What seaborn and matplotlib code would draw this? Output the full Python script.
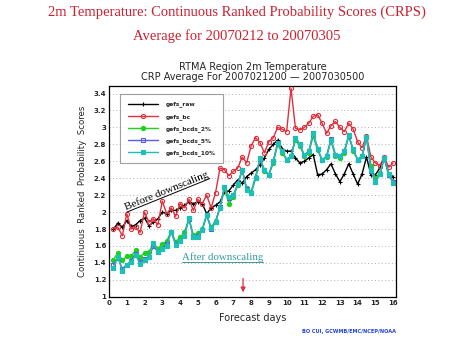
import numpy as np
import pandas as pd
import matplotlib
matplotlib.use("Agg")
import matplotlib.pyplot as plt
from matplotlib.lines import Line2D
import seaborn as sns

# lead time, every 6 h
lead_days = np.arange(1, 65) * 0.25

gefs_raw = [1.80, 1.87, 1.82, 1.90, 1.83, 1.85, 1.90, 1.93,
            1.84, 1.88, 1.92, 2.00, 1.98, 2.02, 2.02, 2.05,
            2.08, 2.12, 2.10, 2.12, 2.10, 1.98, 2.05, 2.08,
            2.12, 2.24, 2.25, 2.32, 2.38, 2.34, 2.42, 2.46,
            2.50, 2.56, 2.64, 2.74, 2.80, 2.85, 2.75, 2.72,
            2.72, 2.64, 2.58, 2.60, 2.64, 2.68, 2.44, 2.45,
            2.50, 2.57, 2.45, 2.36, 2.45, 2.57, 2.45, 2.33,
            2.45, 2.65, 2.44, 2.44, 2.52, 2.64, 2.45, 2.42]

gefs_bc = [1.80, 1.82, 1.72, 1.98, 1.80, 1.82, 1.76, 2.00,
           1.88, 1.92, 1.85, 2.13, 1.98, 2.05, 1.95, 2.10,
           2.05, 2.15, 2.02, 2.15, 2.10, 2.20, 2.05, 2.23,
           2.52, 2.50, 2.43, 2.48, 2.52, 2.65, 2.58, 2.78,
           2.88, 2.82, 2.70, 2.83, 2.88, 3.00, 2.98, 2.95,
           3.46, 2.99, 2.97, 3.00, 3.05, 3.13, 3.15, 3.05,
           2.93, 3.02, 3.07, 3.00, 2.95, 3.05, 2.98, 2.83,
           2.76, 2.90, 2.65, 2.58, 2.55, 2.65, 2.53, 2.58]

gefs_bcds_2 = [1.44, 1.52, 1.43, 1.48, 1.48, 1.55, 1.47, 1.52,
               1.53, 1.63, 1.57, 1.62, 1.66, 1.77, 1.65, 1.70,
               1.76, 1.93, 1.73, 1.75, 1.80, 1.97, 1.82, 1.90,
               2.05, 2.28, 2.10, 2.18, 2.32, 2.50, 2.28, 2.24,
               2.42, 2.62, 2.48, 2.44, 2.58, 2.80, 2.70, 2.62,
               2.66, 2.85, 2.78, 2.66, 2.70, 2.90, 2.73, 2.62,
               2.65, 2.84, 2.66, 2.64, 2.70, 2.90, 2.72, 2.62,
               2.66, 2.88, 2.55, 2.40, 2.46, 2.63, 2.45, 2.36]

gefs_bcds_5 = [1.38, 1.46, 1.33, 1.38, 1.42, 1.50, 1.41, 1.45,
               1.47, 1.60, 1.53, 1.57, 1.62, 1.77, 1.62, 1.66,
               1.72, 1.92, 1.70, 1.72, 1.79, 1.96, 1.80, 1.88,
               2.06, 2.30, 2.17, 2.20, 2.33, 2.50, 2.27, 2.22,
               2.40, 2.63, 2.50, 2.44, 2.60, 2.82, 2.72, 2.62,
               2.66, 2.88, 2.80, 2.67, 2.72, 2.93, 2.75, 2.61,
               2.66, 2.86, 2.68, 2.66, 2.72, 2.90, 2.74, 2.62,
               2.66, 2.89, 2.48, 2.36, 2.45, 2.64, 2.44, 2.35]

gefs_bcds_10 = [1.34, 1.47, 1.31, 1.37, 1.41, 1.49, 1.39, 1.43,
                1.47, 1.63, 1.53, 1.56, 1.60, 1.77, 1.61, 1.66,
                1.72, 1.93, 1.70, 1.71, 1.79, 1.97, 1.81, 1.88,
                2.05, 2.30, 2.18, 2.20, 2.33, 2.50, 2.26, 2.22,
                2.40, 2.64, 2.50, 2.44, 2.60, 2.82, 2.72, 2.62,
                2.66, 2.87, 2.80, 2.67, 2.72, 2.93, 2.75, 2.61,
                2.66, 2.85, 2.68, 2.66, 2.72, 2.91, 2.74, 2.62,
                2.66, 2.89, 2.50, 2.36, 2.45, 2.64, 2.45, 2.34]

series = [
    ("gefs_raw", gefs_raw, "black", "+", "black"),
    ("gefs_bc", gefs_bc, "#e0303c", "o", "none"),
    ("gefs_bcds_2%", gefs_bcds_2, "#20d020", "o", "#20d020"),
    ("gefs_bcds_5%", gefs_bcds_5, "#5a5ae6", "s", "none"),
    ("gefs_bcds_10%", gefs_bcds_10, "#1cc0b4", "s", "#1cc0b4"),
]

sns.set_style("white")
plt.rcParams["font.family"] = ["DejaVu Sans"]

fig = plt.figure(figsize=(4.74, 3.55), dpi=100)
ax = fig.add_axes([0.230, 0.164, 0.605, 0.594])

for name, vals, color, mk, mfc in series:
    sns.lineplot(x=lead_days, y=vals, ax=ax, color=color, lw=1.0,
                 marker=mk, markersize=3.0, mfc=mfc, mec=color, mew=0.8,
                 label=name)

ax.set_xlim(0, 16.15)
ax.set_ylim(1, 3.49)
ax.set_xticks(range(0, 17))
yt = np.round(np.arange(1, 3.41, 0.2), 1)
ax.set_yticks(yt)
ax.set_yticklabels([f"{v:g}" for v in yt])
ax.tick_params(labelsize=5, length=2, direction="in", pad=2)
for lbl in ax.get_xticklabels() + ax.get_yticklabels():
    lbl.set_fontweight("bold")
ax.yaxis.grid(True, ls=(0, (1, 2.5)), color="#b0b0b0", lw=0.7)
ax.xaxis.grid(False)
for sp in ax.spines.values():
    sp.set_color("black")
    sp.set_linewidth(0.9)

ax.set_xlabel("Forecast days", fontsize=7, labelpad=5)
ax.set_ylabel("Continuous  Ranked  Probability  Scores", fontsize=6.2, labelpad=5)
ax.set_title("RTMA Region 2m Temperature\nCRP Average For 2007021200 \u2014 2007030500",
             fontsize=7, linespacing=1.0, pad=4)

leg = ax.legend(loc="upper left", bbox_to_anchor=(0.038, 0.962), fontsize=4.2,
                frameon=True, fancybox=False, edgecolor="#888888",
                handlelength=5.2, borderpad=1.3, labelspacing=1.05,
                handletextpad=1.3, borderaxespad=0)
leg.get_frame().set_linewidth(0.8)
for t in leg.get_texts():
    t.set_fontweight("bold")


def underlined(x, y, s, angle, color, size):
    t = ax.text(x, y, s, rotation=angle, rotation_mode="anchor",
                ha="center", va="baseline", fontsize=size, color=color,
                family="Liberation Serif")
    r = fig.canvas.get_renderer()
    tmp = ax.text(0, 0, s, fontsize=size, family="Liberation Serif")
    w = tmp.get_window_extent(r).width
    tmp.remove()
    p = ax.transData.transform((x, y))
    a = np.deg2rad(angle)
    u = np.array([np.cos(a), np.sin(a)])
    n = np.array([np.sin(a), -np.cos(a)]) * 2.0
    ends = np.array([p - u * w / 2 + n, p + u * w / 2 + n])
    ends = fig.transFigure.inverted().transform(ends)
    fig.add_artist(Line2D(ends[:, 0], ends[:, 1], color=color, lw=0.7,
                          transform=fig.transFigure))
    return t


underlined(3.3, 2.22, "Before downscaling", 22, "black", 8)
underlined(6.4, 1.44, "After downscaling", 0, "#3a9a9a", 7.8)

ax.annotate("", xy=(7.55, 1.02), xytext=(7.55, 1.25),
            arrowprops=dict(arrowstyle="-|>", color="#e0303c", lw=0.9,
                            mutation_scale=7))

fig.text(0.5, 0.965, "2m Temperature: Continuous Ranked Probability Scores (CRPS)",
         ha="center", va="center", color="#cc2030", fontsize=10.5,
         family="Liberation Serif")
fig.text(0.5, 0.898, "Average for 20070212 to 20070305",
         ha="center", va="center", color="#cc2030", fontsize=10.5,
         family="Liberation Serif")
fig.text(0.836, 0.065, "BO CUI, GCWMB/EMC/NCEP/NOAA", ha="right", va="center",
         color="#2040e0", fontsize=3.6, fontweight="bold")

fig.savefig("out.png", dpi=100)
